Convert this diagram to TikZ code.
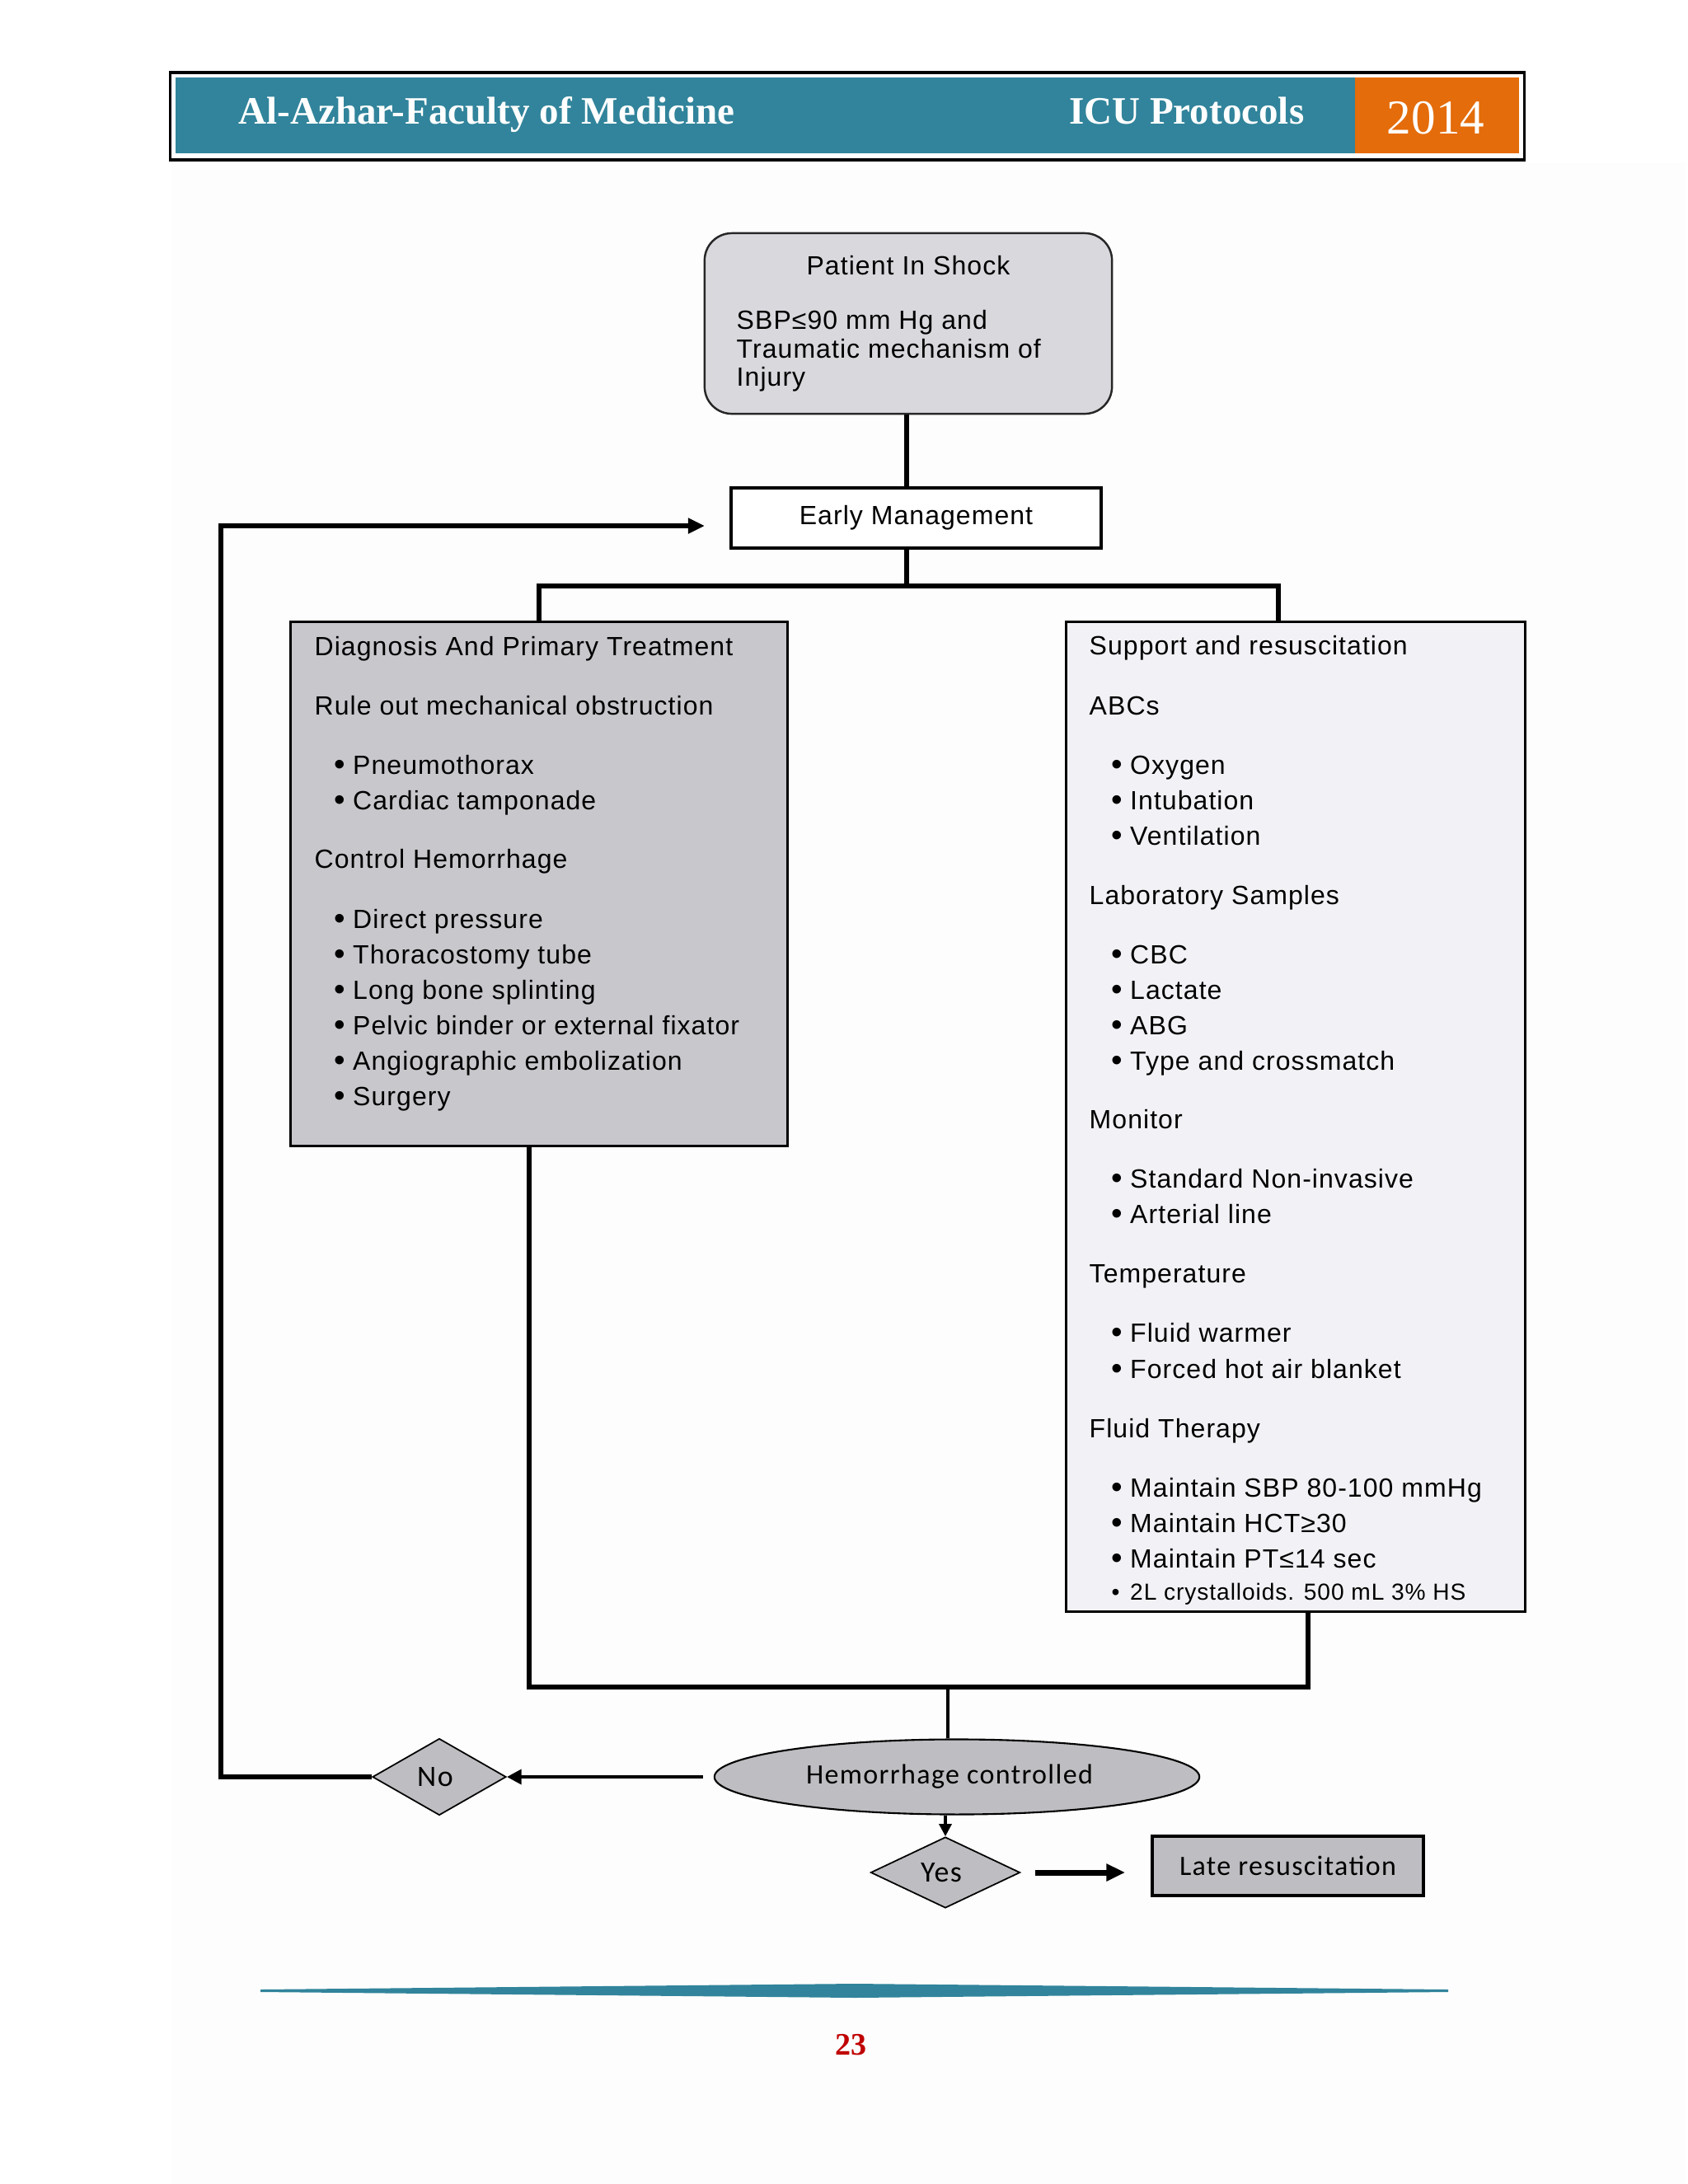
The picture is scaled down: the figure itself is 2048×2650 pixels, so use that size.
\documentclass[tikz,border=0pt]{standalone}
\usepackage{fontspec}
\setmainfont{Liberation Serif}
\newfontfamily\arialf[LetterSpace=3.3]{Liberation Sans}
\newfontfamily\calf[LetterSpace=4]{Carlito}
\usetikzlibrary{shapes.geometric,arrows.meta}
\definecolor{hdrteal}{RGB}{49,132,155}
\definecolor{hdrorange}{RGB}{228,108,10}
\definecolor{patfill}{RGB}{217,216,221}
\definecolor{leftfill}{RGB}{200,199,204}
\definecolor{rightfill}{RGB}{242,241,245}
\definecolor{shapefill}{RGB}{190,189,193}
\definecolor{pagebg}{RGB}{253,253,253}
\definecolor{pgred}{RGB}{192,0,0}
\newcommand\arialtxt{\arialf\fontsize{9.1pt}{10pt}\selectfont}
\newcommand\arialsmall{\arialf\fontsize{8.0pt}{9pt}\selectfont}
\newcommand\caltxt{\calf\fontsize{9.67pt}{11pt}\selectfont}
\newcommand\calbig{\calf\fontsize{10.2pt}{11pt}\selectfont}
\newcommand\bul{\makebox[6.4pt][l]{\raisebox{-0.4pt}{\fontsize{11pt}{11pt}\selectfont\textbullet}}}
\newcommand\bulsmall{\makebox[6.4pt][l]{\textbullet}}
\begin{document}
\begin{tikzpicture}[x=0.01cm,y=-0.01cm,
  txt/.style={anchor=base west,inner sep=0,font=\arialtxt},
  hdrtxt/.style={inner sep=0,text=white,font=\bfseries\fontsize{13.37pt}{15pt}\selectfont},
  flowbox/.style={draw=black,line width=0.85pt,inner sep=0},
  conn/.style={line width=1.7pt},
  thinconn/.style={line width=0.9pt},
  loopst/.style={line width=1.8pt,-{Triangle[length=5.7pt,width=5.1pt]}}]
\useasboundingbox (0,0) rectangle (2048,2650);
\fill[white] (0,0) rectangle (2048,2650);
\fill[pagebg] (208,198) rectangle (2045,2650);

% header
\node[draw=black,line width=1.1pt,minimum width=16.42cm,minimum height=1.06cm,inner sep=0] (hframe) at (1028,141) {};
\node[fill=hdrteal,minimum width=14.31cm,minimum height=0.92cm,inner sep=0] (hteal) at (928.5,140) {};
\node[fill=hdrorange,minimum width=1.99cm,minimum height=0.92cm,inner sep=0] (horange) at (1743.5,140) {};
\node[hdrtxt,anchor=base west] (htitle) at (289,150) {Al-Azhar-Faculty of Medicine};
\node[hdrtxt,anchor=base east] (hicu) at (1583,150) {ICU Protocols};
\node[anchor=base,inner sep=0,text=white,font=\fontsize{16.8pt}{18pt}\selectfont] (hyear) at (1742,162) {2014};

% top box
\node[draw=black!85,line width=0.7pt,fill=patfill,rounded corners=0.33cm,minimum width=4.94cm,minimum height=2.19cm,inner sep=0] (pat) at (1102,392.5) {};
\node[txt,anchor=base] (patT) at (1102,333) {Patient In Shock};
\node[txt] (pat1) at (893,399) {SBP≤90 mm Hg and};
\node[txt] (pat2) at (893,434) {Traumatic mechanism of};
\node[txt] (pat3) at (893,468) {Injury};

\node[draw=black,line width=0.95pt,fill=white,minimum width=4.49cm,minimum height=0.73cm,inner sep=0,font=\arialtxt] (early) at (1111.5,628.5) {\raisebox{0.08cm}{Early Management}};

% two big boxes
\node[flowbox,fill=leftfill,minimum width=6.02cm,minimum height=6.35cm] (diag) at (654,1072.5) {};
\node[flowbox,fill=rightfill,minimum width=5.56cm,minimum height=12.00cm] (supp) at (1572,1355) {};

\foreach \nm/\yy/\tx in {dA/795/Diagnosis And Primary Treatment,dB/867/Rule out mechanical obstruction,dC/1053/Control Hemorrhage}
  \node[txt] (\nm) at (381,\yy) {\tx};
\foreach \nm/\yy/\tx in {d1/939/Pneumothorax,d2/982/Cardiac tamponade,d3/1126/Direct pressure,d4/1169/Thoracostomy tube,d5/1212/Long bone splinting,d6/1255/Pelvic binder or external fixator,d7/1298/Angiographic embolization,d8/1341/Surgery}
  \node[txt] (\nm) at (405,\yy) {\bul\tx};

\foreach \nm/\yy/\tx in {sA/794/Support and resuscitation,sB/867/ABCs,sC/1097/Laboratory Samples,sD/1369/Monitor,sE/1556/Temperature,sF/1744/Fluid Therapy}
  \node[txt] (\nm) at (1321,\yy) {\tx};
\foreach \nm/\yy/\tx in {s1/939/Oxygen,s2/982/Intubation,s3/1025/Ventilation,s4/1169/CBC,s5/1212/Lactate,s6/1255/ABG,s7/1298/Type and crossmatch,s8/1441/Standard Non-invasive,s9/1484/Arterial line,s10/1628/Fluid warmer,s11/1672/Forced hot air blanket,s12/1816/Maintain SBP 80-100 mmHg,s13/1859/Maintain HCT≥30,s14/1902/Maintain PT≤14 sec}
  \node[txt] (\nm) at (1348,\yy) {\bul\tx};
\node[txt,font=\arialsmall] (s15) at (1348,1941) {\bulsmall 2L crystalloids. 500 mL 3\% HS};

% bottom shapes
\node[ellipse,draw=black,line width=0.6pt,fill=shapefill,minimum width=5.88cm,minimum height=0.91cm,inner sep=0,font=\caltxt] (hem) at (1161,2156) {Hemorrhage controlled\hspace*{0.18cm}};
\node[diamond,draw=black,line width=0.5pt,fill=shapefill,minimum width=1.62cm,minimum height=0.93cm,inner sep=0,font=\calbig] (no) at (533,2156) {\raisebox{-0.09cm}{No}\hspace*{0.1cm}};
\node[diamond,draw=black,line width=0.5pt,fill=shapefill,minimum width=1.81cm,minimum height=0.86cm,inner sep=0,font=\calbig] (yes) at (1147,2272) {\raisebox{-0.07cm}{Yes}\hspace*{0.1cm}};
\node[draw=black,line width=1pt,fill=shapefill,minimum width=3.29cm,minimum height=0.72cm,inner sep=0,font=\caltxt] (late) at (1562.5,2264) {Late resuscitation};

% connectors
\coordinate (split) at (1100,711);
\coordinate (rtop) at (1551,755);
\draw[line width=1.8pt] (pat.south -| split) -- (early.north -| split);
\draw[conn] (early.south -| split) -- (split);
\draw[conn] (diag.north) |- (split) -| (rtop);

\coordinate (lbot) at (642,1390);
\coordinate (rbot) at (1587,1955);
\coordinate (mjoin) at (1150,2047);
\draw[conn] (lbot) |- (mjoin) -| (rbot);
\draw[thinconn] (mjoin) -- (mjoin |- hem.north);

\draw[line width=1.2pt,-{Triangle[length=5pt,width=5pt]},shorten <=0.13cm] (hem.west) -- (no.east);
\coordinate (loopTop) at (268,638);
\coordinate (loopEnd) at (855,638);
\draw[loopst] (no.west) -| (loopTop) -- (loopEnd);
\draw[thinconn,-{Triangle[length=4.3pt,width=4.3pt]}] (yes.north |- hem.south) -- (yes.north);
\draw[line width=2pt,-{Triangle[length=6.5pt,width=5.7pt]},shorten <=0.18cm,shorten >=0.31cm] (yes.east) -- (yes.east -| late.west);

% footer
\fill[hdrteal] (316,2414) -- (1037,2407) -- (1757,2414) -- (1757,2417) -- (1037,2424) -- (316,2417) -- cycle;
\node[anchor=base,inner sep=0,text=pgred,font=\bfseries\fontsize{10.8pt}{12pt}\selectfont] (pgnum) at (1032,2493) {23};
\end{tikzpicture}
\end{document}
